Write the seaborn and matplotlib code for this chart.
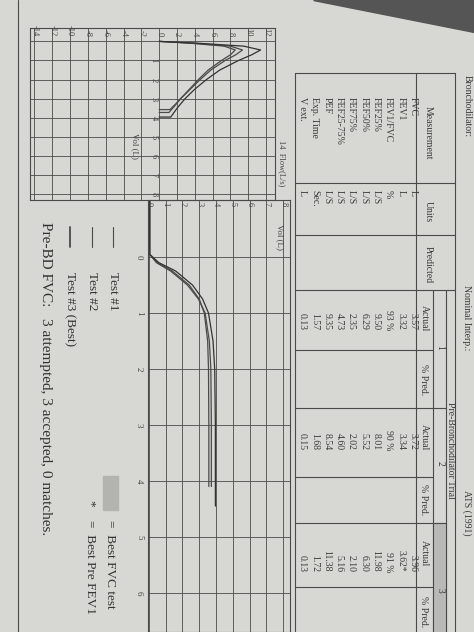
import numpy as np
import pandas as pd
import seaborn as sns
import matplotlib.pyplot as plt
from matplotlib.patches import Polygon, Rectangle

sns.set_style("white")
plt.rcParams['font.family'] = ['Liberation Serif', 'DejaVu Serif']

# --- table data ---
measurements = ["FVC", "FEV1", "FEV1/FVC", "FEF25%", "FEF50%", "FEF75%",
                "FEF25-75%", "PEF", "Exp. Time", "V ext."]
units = ["L", "L", "%", "L/S", "L/S", "L/S", "L/S", "L/S", "Sec.", "L"]
trial1 = ["3.57", "3.32", "93 %", "9.50", "6.29", "2.35", "4.73", "9.35", "1.57", "0.13"]
trial2 = ["3.72", "3.34", "90 %", "8.01", "5.52", "2.02", "4.60", "8.54", "1.68", "0.15"]
trial3 = ["3.96", "3.62*", "91 %", "11.98", "6.30", "2.10", "5.16", "11.38", "1.72", "0.13"]

# --- flow-volume curves (volume L, flow L/s) ---
fv_vol1 = [0, 0.1, 0.25, 0.45, 0.7, 1.0, 1.5, 2.0, 2.5, 3.0, 3.3, 3.57, 3.57]
fv_flow1 = [0, 4.0, 8.0, 9.35, 8.6, 7.4, 5.8, 4.6, 3.5, 2.4, 1.8, 1.2, 0]
fv_vol2 = [0, 0.1, 0.25, 0.45, 0.7, 1.0, 1.5, 2.0, 2.5, 3.0, 3.4, 3.72, 3.72]
fv_flow2 = [0, 3.6, 7.3, 8.54, 8.0, 7.0, 5.5, 4.4, 3.4, 2.4, 1.7, 1.1, 0]
fv_vol3 = [0, 0.1, 0.25, 0.45, 0.7, 1.0, 1.5, 2.0, 2.5, 3.0, 3.5, 3.96, 3.96]
fv_flow3 = [0, 4.5, 9.5, 11.38, 10.4, 8.9, 6.8, 5.3, 4.0, 2.9, 2.0, 1.3, 0]

# --- volume-time curves (time s, volume L) ---
vt_time = [-1.0, -0.05, 0.1, 0.25, 0.5, 0.75, 1.0, 1.5, 2.0, 3.0]
vt_vol1 = [0.05, 0.05, 0.5, 1.4, 2.4, 3.0, 3.3, 3.5, 3.55, 3.57]
vt_vol2 = [0.05, 0.05, 0.45, 1.3, 2.3, 2.95, 3.35, 3.6, 3.69, 3.72]
vt_vol3 = [0.05, 0.05, 0.6, 1.6, 2.6, 3.2, 3.55, 3.82, 3.92, 3.96]
vt_end = [4.1, 4.1, 4.45]

INK = "#4a4a4a"
PAPER = "#d7d7d3"

fig = plt.figure(figsize=(4.74, 6.32), dpi=100)
fig.patch.set_facecolor(PAPER)


def box(x0, y0, x1, y1):
    return [x0 / 474, 1 - y1 / 632, (x1 - x0) / 474, (y1 - y0) / 632]


ax0 = fig.add_axes([0, 0, 1, 1])
ax0.set_xlim(0, 474)
ax0.set_ylim(632, 0)
ax0.axis("off")
ax0.add_patch(Polygon([(313, 0), (474, 0), (474, 32)], color="#555555"))

kw = dict(rotation=270, color="#3a3a3a", fontsize=7)

# table lines
for x in [295, 416, 455]:
    ax0.plot([x, x], [73, 632], color=INK, lw=0.8)
ax0.plot([295, 455], [73, 73], color=INK, lw=0.8)
ax0.add_patch(Rectangle((433, 523), 13, 109, color="#b9b9b6"))
ax0.plot([433, 433], [290, 632], color=INK, lw=0.8)
ax0.plot([446, 446], [290, 632], color=INK, lw=0.8)
for y in [183, 235, 290]:
    ax0.plot([295, 455], [y, y], color=INK, lw=0.8)
for y in [350, 477, 587]:
    ax0.plot([295, 433], [y, y], color=INK, lw=0.8)
for y in [408, 523]:
    ax0.plot([295, 446], [y, y], color=INK, lw=0.8)

# table text
for i in range(len(measurements)):
    x = 413 - i * 12.3
    ax0.text(x, 97, measurements[i], ha="center", va="top", **kw)
    ax0.text(x, 190, units[i], ha="center", va="top", **kw)
    ax0.text(x, 330, trial1[i], ha="center", va="bottom", **kw)
    ax0.text(x, 450, trial2[i], ha="center", va="bottom", **kw)
    ax0.text(x, 572, trial3[i], ha="center", va="bottom", **kw)

for s, y in [("Measurement", 133), ("Units", 212), ("Predicted", 265)]:
    ax0.text(428, y, s, ha="center", va="center", **kw)
for s, y in [("Actual", 318), ("% Pred.", 380), ("Actual", 437),
             ("% Pred.", 500), ("Actual", 553), ("% Pred.", 612)]:
    ax0.text(424, y, s, ha="center", va="center", **kw)
for s, y in [("1", 347), ("2", 463), ("3", 590)]:
    ax0.text(440, y, s, ha="center", va="center", **kw)
ax0.text(451, 450, "Pre-Bronchodilator Trial", ha="center", va="center", **kw)
ax0.text(467, 75, "Bronchodilator:", ha="center", va="top", **kw)
ax0.text(467, 285, "Nominal Interp.:", ha="center", va="top", **kw)
ax0.text(467, 490, "ATS (1991)", ha="center", va="top", **kw)

# legend block
big = dict(rotation=270, color="#333333", fontsize=9.5)
for x, s, w in [(113, "Test #1", 0.8), (92, "Test #2", 0.8), (70, "Test #3 (Best)", 1.3)]:
    ax0.plot([x, x], [227, 247], color=INK, lw=w)
    ax0.text(x, 272, s, ha="center", va="top", **big)
ax0.add_patch(Rectangle((103, 476), 15, 34, color="#b3b3b0"))
ax0.text(110, 520, "=  Best FVC test", ha="center", va="top", **big)
ax0.text(90, 500, "*", ha="center", va="top", **big)
ax0.text(90, 520, "=  Best Pre FEV1", ha="center", va="top", **big)
ax0.text(45, 222, "Pre-BD FVC:   3 attempted, 3 accepted, 0 matches.",
         ha="center", va="top", rotation=270, color="#333333", fontsize=11)
ax0.plot([18, 18], [0, 632], color=INK, lw=0.8)

# flow-volume plot
ax1 = fig.add_axes(box(30, 28, 275, 200))
ax1.set_facecolor("none")
fv = pd.concat([
    pd.DataFrame({"vol": fv_vol1, "flow": fv_flow1, "test": "Test #1"}),
    pd.DataFrame({"vol": fv_vol2, "flow": fv_flow2, "test": "Test #2"}),
    pd.DataFrame({"vol": fv_vol3, "flow": fv_flow3, "test": "Test #3"}),
])
sns.lineplot(data=fv, x="flow", y="vol", hue="test", sort=False, estimator=None,
             palette=[INK, INK, "#333333"], lw=0.9, legend=False, ax=ax1)
ax1.set_xlim(-14.5, 13)
ax1.set_ylim(8.3, -0.7)
ax1.set_xticks(np.arange(-14, 13, 2))
ax1.set_yticks(np.arange(0, 9, 1))
ax1.grid(True, color=INK, lw=0.6)
ax1.tick_params(length=0, labelbottom=False, labelleft=False)
ax1.set_xlabel("")
ax1.set_ylabel("")
for sp in ax1.spines.values():
    sp.set_color(INK)
for f in np.arange(-14, 13, 2):
    ax1.text(f, -0.25, str(f), ha="center", va="bottom", rotation=270,
             fontsize=6, color="#444444", clip_on=False)
for v in range(1, 9):
    ax1.text(-0.2, v, str(v), ha="right", va="center", rotation=270,
             fontsize=6, color="#444444")
ax1.text(-2.3, 5.5, "Vol (L)", ha="right", va="center", rotation=270,
         fontsize=6.5, color="#444444")
ax1.text(13.3, 7.6, "14  Flow(L/s)", ha="left", va="bottom", rotation=270,
         fontsize=6, color="#444444", clip_on=False)

# volume-time plot
ax2 = fig.add_axes(box(148, 200, 290, 632))
ax2.set_facecolor("none")
rows = []
for name, vols, end in [("Test #1", vt_vol1, vt_end[0]),
                        ("Test #2", vt_vol2, vt_end[1]),
                        ("Test #3", vt_vol3, vt_end[2])]:
    rows.append(pd.DataFrame({"time": vt_time + [end], "vol": vols + [vols[-1]],
                              "test": name}))
vt = pd.concat(rows)
sns.lineplot(data=vt, x="vol", y="time", hue="test", sort=False, estimator=None,
             palette=[INK, INK, "#333333"], lw=0.9, legend=False, ax=ax2)
ax2.set_xlim(-0.05, 8.4)
ax2.set_ylim(6.7, -1.02)
ax2.set_xticks(np.arange(0, 9, 1))
ax2.set_yticks(np.arange(0, 7, 1))
ax2.grid(True, color=INK, lw=0.6)
ax2.tick_params(length=0, labelbottom=False, labelleft=False)
ax2.set_xlabel("")
ax2.set_ylabel("")
for sp in ax2.spines.values():
    sp.set_color(INK)
for v in range(0, 9):
    ax2.text(v, -0.98, str(v), ha="center", va="top", rotation=270,
             fontsize=6, color="#444444")
for t in range(0, 7):
    ax2.text(-0.35, t, str(t), ha="right", va="center", rotation=270,
             fontsize=6.5, color="#444444", clip_on=False)
ax2.text(7.8, -0.6, "Vol (L)", ha="center", va="top", rotation=270,
         fontsize=6.5, color="#444444")

fig.savefig("out.png", dpi=100, facecolor=fig.get_facecolor())
